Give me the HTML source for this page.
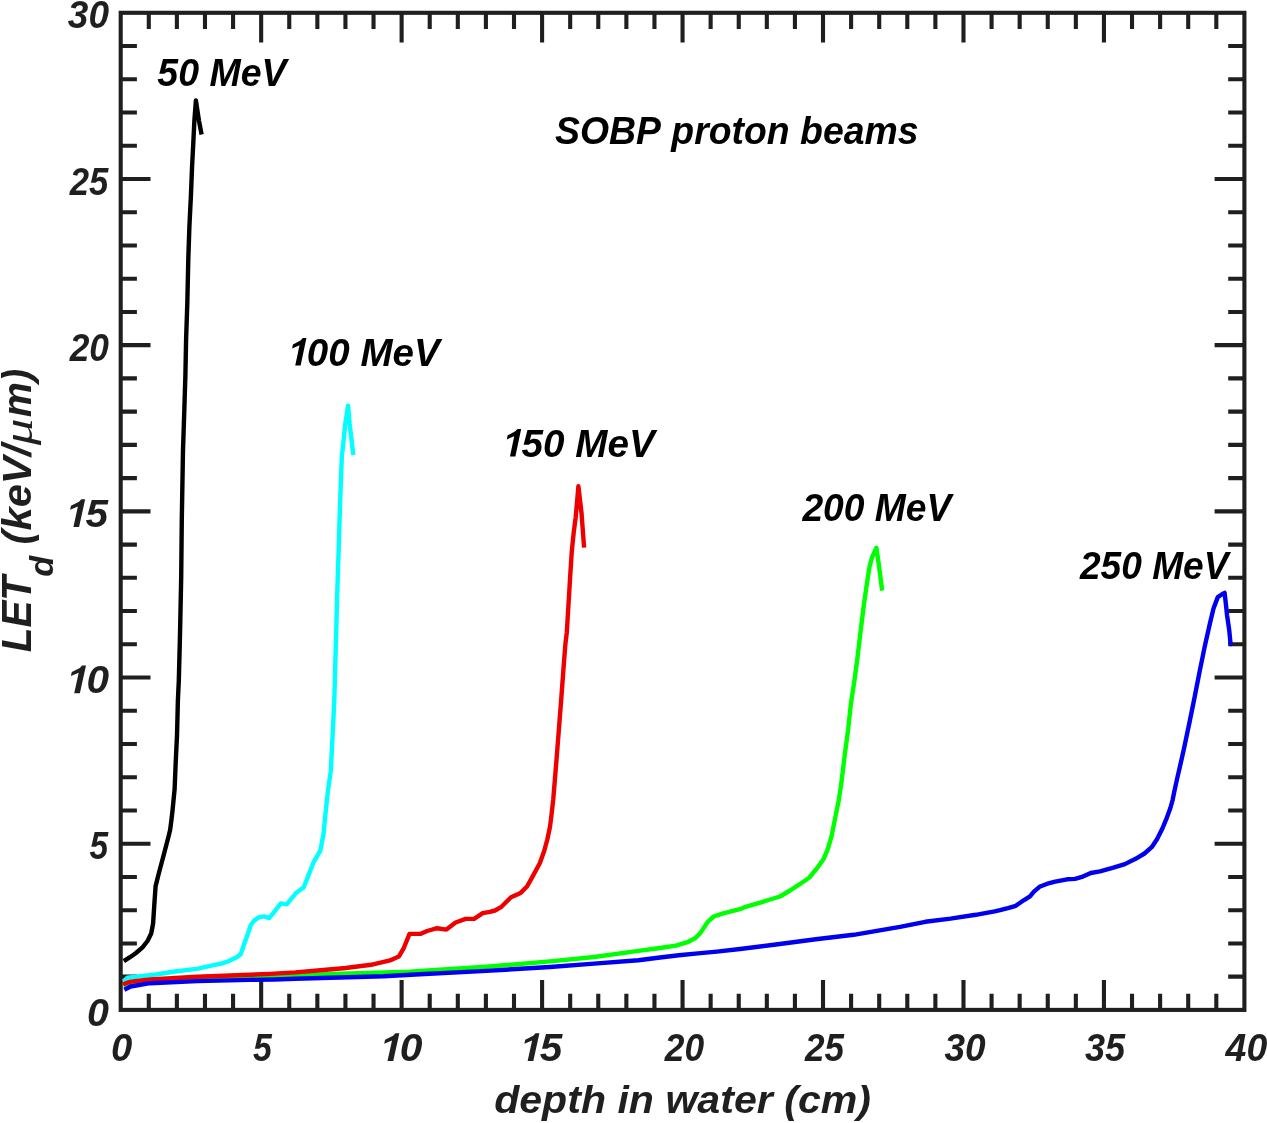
<!DOCTYPE html>
<html><head><meta charset="utf-8"><style>
html,body{margin:0;padding:0;background:#fff;width:1267px;height:1123px;overflow:hidden}
svg{display:block;will-change:transform}
text{font-family:"Liberation Sans",sans-serif;font-weight:bold;font-style:italic;font-kerning:none}
</style></head><body>
<svg width="1267" height="1123" viewBox="0 0 1267 1123">
<rect width="1267" height="1123" fill="#fff"/>
<path d="M148.79,1009.90V993.70M148.79,12.80V29.00M176.88,1009.90V993.70M176.88,12.80V29.00M204.98,1009.90V993.70M204.98,12.80V29.00M233.07,1009.90V993.70M233.07,12.80V29.00M261.16,1009.90V980.10M261.16,12.80V42.60M289.25,1009.90V993.70M289.25,12.80V29.00M317.35,1009.90V993.70M317.35,12.80V29.00M345.44,1009.90V993.70M345.44,12.80V29.00M373.53,1009.90V993.70M373.53,12.80V29.00M401.62,1009.90V980.10M401.62,12.80V42.60M429.72,1009.90V993.70M429.72,12.80V29.00M457.81,1009.90V993.70M457.81,12.80V29.00M485.90,1009.90V993.70M485.90,12.80V29.00M514.00,1009.90V993.70M514.00,12.80V29.00M542.09,1009.90V980.10M542.09,12.80V42.60M570.18,1009.90V993.70M570.18,12.80V29.00M598.27,1009.90V993.70M598.27,12.80V29.00M626.37,1009.90V993.70M626.37,12.80V29.00M654.46,1009.90V993.70M654.46,12.80V29.00M682.55,1009.90V980.10M682.55,12.80V42.60M710.64,1009.90V993.70M710.64,12.80V29.00M738.74,1009.90V993.70M738.74,12.80V29.00M766.83,1009.90V993.70M766.83,12.80V29.00M794.92,1009.90V993.70M794.92,12.80V29.00M823.01,1009.90V980.10M823.01,12.80V42.60M851.11,1009.90V993.70M851.11,12.80V29.00M879.20,1009.90V993.70M879.20,12.80V29.00M907.29,1009.90V993.70M907.29,12.80V29.00M935.38,1009.90V993.70M935.38,12.80V29.00M963.48,1009.90V980.10M963.48,12.80V42.60M991.57,1009.90V993.70M991.57,12.80V29.00M1019.66,1009.90V993.70M1019.66,12.80V29.00M1047.75,1009.90V993.70M1047.75,12.80V29.00M1075.85,1009.90V993.70M1075.85,12.80V29.00M1103.94,1009.90V980.10M1103.94,12.80V42.60M1132.03,1009.90V993.70M1132.03,12.80V29.00M1160.12,1009.90V993.70M1160.12,12.80V29.00M1188.21,1009.90V993.70M1188.21,12.80V29.00M1216.31,1009.90V993.70M1216.31,12.80V29.00M120.70,976.66H136.90M1244.40,976.66H1228.20M120.70,943.43H136.90M1244.40,943.43H1228.20M120.70,910.19H136.90M1244.40,910.19H1228.20M120.70,876.95H136.90M1244.40,876.95H1228.20M120.70,843.72H150.50M1244.40,843.72H1214.60M120.70,810.48H136.90M1244.40,810.48H1228.20M120.70,777.24H136.90M1244.40,777.24H1228.20M120.70,744.01H136.90M1244.40,744.01H1228.20M120.70,710.77H136.90M1244.40,710.77H1228.20M120.70,677.53H150.50M1244.40,677.53H1214.60M120.70,644.30H136.90M1244.40,644.30H1228.20M120.70,611.06H136.90M1244.40,611.06H1228.20M120.70,577.82H136.90M1244.40,577.82H1228.20M120.70,544.59H136.90M1244.40,544.59H1228.20M120.70,511.35H150.50M1244.40,511.35H1214.60M120.70,478.11H136.90M1244.40,478.11H1228.20M120.70,444.88H136.90M1244.40,444.88H1228.20M120.70,411.64H136.90M1244.40,411.64H1228.20M120.70,378.40H136.90M1244.40,378.40H1228.20M120.70,345.17H150.50M1244.40,345.17H1214.60M120.70,311.93H136.90M1244.40,311.93H1228.20M120.70,278.69H136.90M1244.40,278.69H1228.20M120.70,245.46H136.90M1244.40,245.46H1228.20M120.70,212.22H136.90M1244.40,212.22H1228.20M120.70,178.98H150.50M1244.40,178.98H1214.60M120.70,145.75H136.90M1244.40,145.75H1228.20M120.70,112.51H136.90M1244.40,112.51H1228.20M120.70,79.27H136.90M1244.40,79.27H1228.20M120.70,46.04H136.90M1244.40,46.04H1228.20" stroke="#1f1f1f" stroke-width="4.1" fill="none"/>
<rect x="120.7" y="12.8" width="1123.7" height="997.1" fill="none" stroke="#1f1f1f" stroke-width="4.1"/>
<g fill="none" stroke-width="4.4" stroke-linejoin="round" stroke-linecap="butt">
<polyline points="123.8,961.2 130.0,957.2 136.0,953.0 142.5,947.3 147.5,941.0 151.2,933.5 153.1,923.5 154.3,904.8 155.6,886.1 158.7,873.7 163.7,855.0 168.6,836.2 170.1,830.0 171.3,821.0 172.5,810.7 174.6,789.3 175.7,762.5 177.0,735.7 177.9,700.0 178.8,680.8 180.0,634.6 181.2,577.0 181.8,519.2 183.0,450.0 184.3,410.7 185.4,375.0 186.1,339.3 187.3,303.6 188.3,258.9 189.4,226.4 190.9,196.1 192.1,165.8 193.3,143.0 194.4,120.3 195.9,100.5 198.9,120.3 201.6,134.5" stroke="#000"/>
<polyline points="123.7,981.5 127.5,977.6 155.9,974.5 175.0,971.5 198.0,968.6 209.0,966.2 221.0,963.7 228.0,961.5 233.0,958.9 237.5,956.8 240.8,954.0 243.4,946.3 247.0,936.3 250.6,925.6 254.1,920.6 259.1,917.1 264.1,916.4 269.1,918.1 273.4,912.8 280.8,903.4 286.7,904.4 296.3,892.7 303.8,887.3 309.2,873.4 313.4,862.7 320.4,850.3 323.5,834.0 325.0,818.4 328.0,790.0 330.8,771.0 333.2,723.7 334.3,700.0 335.2,666.7 336.0,639.0 337.2,594.1 338.6,551.7 339.9,509.3 341.1,475.4 341.9,455.1 342.8,448.4 345.3,423.5 348.1,405.7 349.6,423.5 353.3,455.0" stroke="#00ffff"/>
<polyline points="123.5,985.3 130.6,983.0 150.0,980.9 197.4,978.7 250.0,977.2 290.0,975.8 313.0,974.6 350.0,973.4 410.0,971.6 420.0,971.0 486.3,966.8 550.0,961.4 594.2,957.0 638.4,950.9 660.0,948.0 675.8,945.6 688.4,941.8 695.4,938.0 700.4,932.9 704.2,927.2 708.0,921.6 713.7,916.5 723.1,913.4 740.0,909.2 745.6,906.8 762.7,901.8 770.0,899.5 780.0,896.5 790.0,890.5 800.5,883.7 809.4,877.5 817.4,867.7 823.7,858.8 828.1,848.1 831.7,835.6 834.3,822.3 837.0,808.9 838.8,800.0 841.2,784.2 844.7,755.2 848.1,729.8 851.0,703.1 854.5,680.0 857.4,658.4 860.8,629.4 863.7,606.3 866.6,585.5 869.5,566.9 871.8,558.2 876.4,547.7 878.7,563.9 882.2,590.6" stroke="#00ff00"/>
<polyline points="123.0,984.3 130.6,981.6 150.0,979.5 197.4,976.7 250.0,974.7 270.0,973.9 295.3,972.4 320.5,970.3 345.8,968.0 371.0,964.8 390.0,960.4 398.8,956.6 403.9,947.8 409.5,933.9 420.3,933.9 427.1,931.0 437.1,928.2 446.4,929.6 455.6,922.5 465.6,918.9 474.1,918.9 482.7,913.2 489.8,911.8 495.0,910.5 501.4,906.8 511.0,897.2 520.6,892.9 527.0,886.5 532.4,876.9 539.9,863.0 544.1,851.3 547.3,839.5 550.0,826.7 551.6,813.9 553.2,800.0 556.4,761.1 559.2,725.5 561.4,697.0 563.5,668.5 565.3,645.0 566.8,632.2 568.7,601.0 570.2,576.1 571.8,551.2 573.7,532.5 575.6,518.0 576.8,505.0 578.4,486.3 581.5,512.8 584.1,547.6" stroke="#ee0000"/>
<polyline points="124.3,989.7 130.6,986.5 150.0,983.2 197.4,981.1 250.0,979.9 274.1,979.5 295.3,978.7 339.5,977.5 383.6,976.2 420.0,974.2 486.3,970.9 550.0,967.0 594.2,963.6 638.4,960.3 660.0,957.5 678.9,955.3 697.9,953.4 716.8,951.6 740.0,949.0 777.9,944.2 815.8,939.2 853.6,934.8 900.0,926.8 925.3,921.8 950.5,918.6 975.8,914.8 994.7,911.3 1000.0,910.1 1007.9,908.1 1015.8,905.8 1023.7,900.3 1030.0,896.3 1033.9,891.6 1039.5,886.8 1047.4,883.7 1055.2,881.7 1067.1,879.3 1075.0,878.9 1082.9,876.6 1090.8,873.0 1100.0,871.3 1113.4,867.7 1124.9,864.1 1135.6,858.8 1144.5,853.5 1151.7,847.2 1157.0,839.2 1162.4,828.5 1166.8,817.8 1170.4,808.0 1172.6,800.0 1174.0,793.0 1176.7,780.6 1180.4,764.6 1183.9,749.0 1189.1,724.2 1194.3,698.7 1199.5,672.1 1204.7,646.6 1209.9,623.5 1213.5,608.5 1217.8,597.1 1222.1,594.2 1224.6,592.8 1225.6,601.4 1227.1,615.6 1229.2,629.9 1230.6,644.1 1232.0,644.1" stroke="#0000ee"/>
</g>
<g fill="#1f1f1f">
<g transform="translate(110.96,1060.92) scale(0.9903,1)"><text x="0.00" y="0" font-size="38.60">0</text></g>
<g transform="translate(252.88,1060.92) scale(0.8773,1)"><text x="0.00" y="0" font-size="38.60">5</text></g>
<g transform="translate(377.10,1060.92) scale(1.0568,1)"><path transform="translate(0.00,0) scale(38.600)" d="M0.2550,0.0000 L0.3950,0.0000 L0.5454,-0.7160 L0.4504,-0.7160 L0.3926,-0.6550 L0.1955,-0.5500 L0.1734,-0.4450 L0.3659,-0.5280Z"/><text x="21.47" y="0" font-size="38.60">0</text></g>
<g transform="translate(517.31,1060.92) scale(1.0493,1)"><path transform="translate(0.00,0) scale(38.600)" d="M0.2550,0.0000 L0.3950,0.0000 L0.5454,-0.7160 L0.4504,-0.7160 L0.3926,-0.6550 L0.1955,-0.5500 L0.1734,-0.4450 L0.3659,-0.5280Z"/><text x="21.47" y="0" font-size="38.60">5</text></g>
<g transform="translate(664.85,1060.92) scale(0.9152,1)"><text x="0.00" y="0" font-size="38.60">20</text></g>
<g transform="translate(805.06,1060.92) scale(0.9093,1)"><text x="0.00" y="0" font-size="38.60">25</text></g>
<g transform="translate(944.44,1060.92) scale(0.9584,1)"><text x="0.00" y="0" font-size="38.60">30</text></g>
<g transform="translate(1085.01,1060.92) scale(0.9353,1)"><text x="0.00" y="0" font-size="38.60">35</text></g>
<g transform="translate(1225.57,1060.92) scale(0.9699,1)"><text x="0.00" y="0" font-size="38.60">40</text></g>
<g transform="translate(87.06,1025.52) scale(1.0211,1)"><text x="0.00" y="0" font-size="38.60">0</text></g>
<g transform="translate(89.57,859.34) scale(0.8680,1)"><text x="0.00" y="0" font-size="38.60">5</text></g>
<g transform="translate(63.86,693.16) scale(1.0512,1)"><path transform="translate(0.00,0) scale(38.600)" d="M0.2550,0.0000 L0.3950,0.0000 L0.5454,-0.7160 L0.4504,-0.7160 L0.3926,-0.6550 L0.1955,-0.5500 L0.1734,-0.4450 L0.3659,-0.5280Z"/><text x="21.47" y="0" font-size="38.60">0</text></g>
<g transform="translate(63.07,526.97) scale(1.0493,1)"><path transform="translate(0.00,0) scale(38.600)" d="M0.2550,0.0000 L0.3950,0.0000 L0.5454,-0.7160 L0.4504,-0.7160 L0.3926,-0.6550 L0.1955,-0.5500 L0.1734,-0.4450 L0.3659,-0.5280Z"/><text x="21.47" y="0" font-size="38.60">5</text></g>
<g transform="translate(69.65,360.79) scale(0.9152,1)"><text x="0.00" y="0" font-size="38.60">20</text></g>
<g transform="translate(69.64,194.61) scale(0.8979,1)"><text x="0.00" y="0" font-size="38.60">25</text></g>
<g transform="translate(67.81,28.42) scale(0.9584,1)"><text x="0.00" y="0" font-size="38.60">30</text></g>
<g transform="translate(494.14,1112.60) scale(1.0678,1)"><text x="0.00" y="0" font-size="38.50">depth</text><text x="115.48" y="0" font-size="38.50">in</text><text x="160.39" y="0" font-size="38.50">water</text><text x="271.66" y="0" font-size="38.50">(cm)</text></g>
<text transform="translate(31.00,652.31) rotate(-90) scale(1,1.0461)" font-size="40.43">LET</text>
<text transform="translate(52.66,576.77) rotate(-90) scale(1,0.9744)" font-size="34.36">d</text>
<text transform="translate(31.45,544.41) rotate(-90) scale(1,0.9882)" font-size="41.69">(keV/</text>
<text transform="translate(31.51,445.35) rotate(-90) scale(1,0.7426)" font-size="53.44" style="font-family:'Liberation Serif',serif;font-weight:normal">μ</text>
<text transform="translate(31.45,417.28) rotate(-90) scale(1,1.0417)" font-size="39.55">m)</text>
</g>
<g fill="#000">
<g transform="translate(157.33,85.82) scale(0.9734,1)"><text x="0.00" y="0" font-size="38.50">50</text><text x="53.52" y="0" font-size="38.50">MeV</text></g>
<g transform="translate(285.42,365.62) scale(1.0006,1)"><path transform="translate(0.00,0) scale(38.500)" d="M0.2550,0.0000 L0.3950,0.0000 L0.5454,-0.7160 L0.4504,-0.7160 L0.3926,-0.6550 L0.1955,-0.5500 L0.1734,-0.4450 L0.3659,-0.5280Z"/><text x="21.41" y="0" font-size="38.50">00</text><text x="74.93" y="0" font-size="38.50">MeV</text></g>
<g transform="translate(500.10,456.52) scale(1.0033,1)"><path transform="translate(0.00,0) scale(38.500)" d="M0.2550,0.0000 L0.3950,0.0000 L0.5454,-0.7160 L0.4504,-0.7160 L0.3926,-0.6550 L0.1955,-0.5500 L0.1734,-0.4450 L0.3659,-0.5280Z"/><text x="21.41" y="0" font-size="38.50">50</text><text x="74.93" y="0" font-size="38.50">MeV</text></g>
<g transform="translate(802.38,520.62) scale(0.9671,1)"><text x="0.00" y="0" font-size="38.50">200</text><text x="74.93" y="0" font-size="38.50">MeV</text></g>
<g transform="translate(1079.98,578.52) scale(0.9633,1)"><text x="0.00" y="0" font-size="38.50">250</text><text x="74.93" y="0" font-size="38.50">MeV</text></g>
<g transform="translate(555.04,143.60) scale(0.9711,1)"><text x="0.00" y="0" font-size="38.50">SOBP</text><text x="119.80" y="0" font-size="38.50">proton</text><text x="252.37" y="0" font-size="38.50">beams</text></g>
</g>
</svg>
</body></html>
